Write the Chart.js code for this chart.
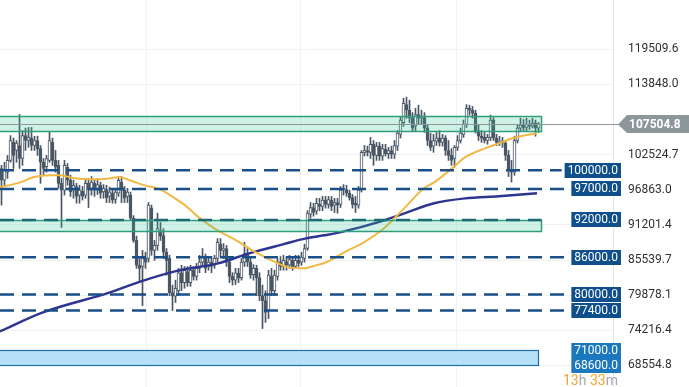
<!DOCTYPE html>
<html>
<head>
<meta charset="utf-8">
<script src="https://cdn.jsdelivr.net/npm/chart.js@4.4.1/dist/chart.umd.min.js"></script>
<style>
  html, body { margin: 0; padding: 0; background: #ffffff; }
  canvas { display: block; }
</style>
</head>
<body>
<canvas id="btcChart" width="689" height="387"></canvas>
<script>
// daily candles, oldest first
const opens = [
  100300, 98400, 99700, 101600, 104500, 103200, 104000, 101900, 105600, 104800,
  105200, 104000, 104800, 103500, 101300, 100600, 101600, 104500, 101600, 100800,
  97900, 96800, 100500, 98400, 96800, 97400, 96000, 96600, 96000, 97900,
  97100, 97900, 96800, 97600, 96500, 96900, 95800, 96300, 95300, 96300,
  98100, 96800, 95800, 96000, 92300, 88700, 84700, 84500, 85800, 85800,
  93900, 87100, 87900, 90300, 89500, 86800, 85800, 80300, 79700, 80600,
  83500, 81900, 83700, 81900, 83900, 82900, 84200, 85200, 85800, 84500,
  85200, 84700, 85800, 88100, 87100, 87400, 85200, 82900, 82300, 83400,
  82700, 85200, 86500, 85200, 83200, 84200, 82700, 79800, 79000, 77400,
  82900, 80600, 82900, 85200, 84500, 85300, 84700, 85500, 84500, 85500,
  85200, 85800, 87400, 92900, 94000, 93400, 94500, 94200, 95200, 94500,
  95200, 94400, 94800, 94500, 96800, 96900, 96300, 95600, 94700, 94400,
  96800, 102900, 103200, 102900, 104200, 102400, 103900, 102300, 103400, 102700,
  103200, 102600, 103900, 105800, 107700, 110600, 109700, 108500, 107100, 109000,
  108400, 108500, 106800, 104800, 103900, 104700, 105200, 104500, 105200, 103200,
  102400, 101900, 103700, 104800, 105800, 107400, 110000, 109700, 109200, 106400,
  105500, 105300, 104800, 105300, 108100, 105200, 104500, 104700, 104400, 102400,
  100000, 99700, 104800, 106800, 107300, 106900, 107400, 107100, 107600, 106800
];
const highs = [
  100800, 101300, 102400, 105600, 105200, 104800, 109000, 106400, 106800, 106900,
  106900, 105500, 105500, 104000, 101900, 102400, 106300, 105200, 103200, 101600,
  98700, 101600, 101100, 99200, 98400, 97900, 97600, 97400, 98400, 98700,
  99000, 98400, 98700, 98100, 97700, 97600, 97300, 97100, 97100, 99000,
  99000, 97400, 97100, 96500, 92700, 89400, 85800, 87100, 86800, 94800,
  94400, 88700, 93100, 91600, 90600, 87400, 86300, 81500, 82300, 84200,
  84700, 84500, 84500, 84700, 84500, 85000, 86300, 87400, 86500, 86100,
  86100, 86300, 89000, 89000, 88200, 87900, 85800, 83500, 84200, 84200,
  85800, 88400, 87400, 85800, 84800, 84700, 83500, 81500, 80600, 83900,
  84200, 83900, 85800, 86100, 86300, 86100, 86300, 86100, 86300, 86300,
  86800, 88100, 93500, 94800, 94700, 95500, 95500, 95800, 95800, 95800,
  95800, 95500, 95500, 97400, 97700, 97600, 96800, 96100, 95800, 97400,
  103200, 104000, 103900, 105300, 104800, 104500, 104500, 104200, 104200, 103700,
  103900, 104800, 106400, 108700, 111600, 111800, 111300, 109300, 110000, 110500,
  109700, 109300, 107400, 106000, 105800, 106100, 106400, 105800, 105600, 104800,
  103500, 104000, 105600, 106800, 108100, 110600, 110500, 110300, 109700, 107300,
  106400, 106100, 105800, 108900, 108500, 105800, 105500, 105300, 104800, 103200,
  101600, 105500, 107300, 108400, 108200, 108400, 108100, 108400, 108100, 107700
];
const lows = [
  94400, 97600, 98700, 101300, 100300, 101300, 100300, 100800, 103200, 103700,
  103200, 103200, 102400, 97900, 99200, 99700, 101300, 100800, 99700, 97100,
  90800, 96000, 97600, 95800, 95500, 94700, 94700, 95200, 95500, 94000,
  96000, 95800, 96100, 95500, 95500, 94800, 94800, 94700, 94700, 95800,
  94800, 94800, 94800, 91900, 88400, 84200, 81900, 78200, 84200, 85200,
  86300, 85500, 87100, 88700, 85800, 83100, 79800, 77400, 78700, 79800,
  80600, 81000, 81300, 81300, 82300, 82300, 83500, 84500, 83500, 83900,
  83500, 84200, 85200, 86100, 85800, 84500, 81900, 81500, 81600, 81900,
  82300, 84500, 84500, 82600, 82300, 79800, 79000, 74500, 75500, 76100,
  79800, 79800, 82300, 83900, 83900, 83900, 84200, 83900, 84200, 84500,
  84700, 85200, 87100, 92300, 92600, 92900, 93500, 93500, 93900, 93900,
  93500, 93200, 93100, 94000, 96000, 95800, 95200, 93900, 93200, 93900,
  96500, 102300, 102300, 101900, 100800, 101600, 101600, 101600, 102300, 101900,
  101900, 101900, 103200, 105200, 107100, 108400, 107700, 106300, 106400, 107400,
  107400, 106100, 104000, 103200, 102900, 104000, 103900, 103900, 102400, 101600,
  100800, 100500, 103200, 104400, 105300, 106900, 108900, 108400, 106000, 104800,
  104500, 104400, 104200, 104800, 104800, 104000, 104000, 103700, 101600, 99000,
  98100, 99200, 104400, 106400, 106400, 106400, 106600, 106800, 105500, 106100
];
const closes = [
  98400, 100000, 101600, 104800, 102400, 104400, 101900, 105600, 104800, 105300,
  104000, 104800, 103500, 101300, 100300, 101900, 104800, 101600, 100500, 97900,
  96800, 100800, 98400, 96500, 97600, 95800, 96800, 95800, 97900, 96800,
  98100, 96800, 97700, 96300, 97100, 95600, 96500, 95200, 96500, 98400,
  96800, 95500, 96500, 92300, 88700, 84700, 84200, 85800, 85200, 94400,
  87100, 87900, 90600, 89400, 86800, 85500, 80300, 79700, 81000, 83500,
  81900, 83900, 81900, 83900, 82900, 84200, 85200, 86100, 84200, 85200,
  84500, 85800, 88400, 87100, 87400, 85200, 82900, 82300, 83500, 82600,
  85200, 86600, 85200, 83100, 84200, 82700, 79800, 79000, 77100, 83100,
  80600, 83100, 85200, 84500, 85500, 84700, 85600, 84500, 85500, 85000,
  86000, 87400, 93100, 94000, 93200, 94700, 94200, 95200, 94500, 95300,
  94200, 94800, 94400, 96800, 97100, 96300, 95600, 94500, 94400, 96800,
  102900, 103200, 102900, 104200, 102400, 103900, 102300, 103500, 102700, 103200,
  102600, 104000, 106000, 108100, 110800, 109700, 108500, 106800, 109000, 108400,
  108700, 106800, 104800, 103700, 104800, 105200, 104500, 105200, 103200, 102400,
  101600, 103700, 104800, 106000, 107400, 110000, 109700, 109200, 106400, 105500,
  105200, 104800, 105300, 108100, 105200, 104500, 104700, 104400, 102400, 100000,
  99700, 104800, 106800, 107300, 106900, 107400, 107100, 107600, 106800, 107504.8
];

// moving averages, points (candle index, price)
const fastMaIdx = [-0.5, 6.2, 10.5, 16.2, 19.5, 24.5, 32.8, 39.5, 42.8, 47.8, 52.8, 57.8, 61.2, 66.2, 71.5, 78.2,
  84.8, 91.5, 95.8, 100.5, 104.8, 108.2, 114.2, 120.8, 127.5, 134.2, 140.8, 144.2, 150.2, 154.5, 161.2, 165.8, 170.2, 174.5, 178.5];
const fastMaVal = [97260, 98060, 98870, 99190, 99190, 98710, 98550, 98870, 98390, 97580, 96930, 95480, 94350, 92260, 90490, 88710,
  86780, 85160, 84360, 84200, 84680, 85160, 86780, 88390, 90650, 93870, 97100, 98060, 100320, 102090, 103540, 104350, 105160, 105640, 105960];
const slowMaIdx = [-0.5, 13.8, 36.2, 46.5, 57.8, 72.2, 82.5, 93.8, 101.5, 107.5, 112.8, 126.5, 135.2, 144.2, 154.5, 165.8, 178.5];
const slowMaVal = [74040, 77100, 80330, 82100, 83710, 85000, 86610, 88070, 89030, 89520, 90000, 91770, 93230, 94680, 95480, 95810, 96290];

// price scale labels and time grid
const priceTicks = [68554.8, 74216.4, 79878.1, 85539.7, 91201.4, 96863.0, 102524.7, 113848.0, 119509.6];
const timeGrid = [48.2, 99.8, 151.5];

// drawings
const levelLines = [100000, 97000, 86000, 80000, 77400];
const zoneLevel = 92000;
const greenZones = [[106300, 108700], [90200, 92000]];
const blueZone = [68600, 71000];
const zoneEndIndex = 179.7;
const countdownParts = ['13', 'h ', '33', 'm'];

const candleColor = '#4a5765';
const font = 'Roboto, "DejaVu Sans", sans-serif';

var canvas = document.getElementById('btcChart');
var ctx = canvas.getContext('2d');

function drawTag(c, text, yMid, bg, right) {
  c.font = '12px ' + font;
  const w = c.measureText(text).width + 6;
  const h = 15;
  c.fillStyle = bg;
  c.fillRect(right - w, Math.round(yMid - h / 2), w, h);
  c.fillStyle = '#ffffff';
  c.textAlign = 'right';
  c.textBaseline = 'middle';
  c.fillText(text, right - 3, Math.round(yMid - h / 2) + h / 2 + 0.5);
  return right - w;
}

const drawingsPlugin = {
  id: 'drawings',
  afterDatasetsDraw(chart) {
    const c = chart.ctx;
    const area = chart.chartArea;
    const x = chart.scales.x;
    const y = chart.scales.y;
    const zoneRight = Math.round(x.getPixelForValue(zoneEndIndex)) + 0.5;
    const tagRight = 621;
    c.save();

    // green zones
    greenZones.forEach(function (z) {
      const top = Math.round(y.getPixelForValue(z[1])) + 0.5;
      const bot = Math.round(y.getPixelForValue(z[0])) + 0.5;
      c.fillStyle = 'rgba(40, 195, 140, 0.22)';
      c.fillRect(area.left, top, zoneRight - area.left, bot - top);
      c.strokeStyle = '#2f9e7c';
      c.lineWidth = 1.5;
      c.strokeRect(area.left - 3, top, zoneRight - area.left + 3, bot - top);
    });

    // blue zone
    const bTop = Math.round(y.getPixelForValue(blueZone[1])) + 0.5;
    const bBot = Math.round(y.getPixelForValue(blueZone[0])) + 0.5;
    c.fillStyle = '#b6e0f7';
    c.fillRect(area.left, bTop, zoneRight - 3 - area.left, bBot - bTop);
    c.strokeStyle = '#1f6ea6';
    c.lineWidth = 1.2;
    c.strokeRect(area.left - 3, bTop, zoneRight - 3 - area.left + 3, bBot - bTop);

    // current price line
    const last = closes[closes.length - 1];
    const py = Math.round(y.getPixelForValue(last)) + 0.5;
    c.strokeStyle = '#8d969b';
    c.lineWidth = 1;
    c.beginPath();
    c.moveTo(area.left, py);
    c.lineTo(620, py);
    c.stroke();

    // dashed levels with tags
    c.setLineDash([14, 8]);
    c.lineWidth = 2.5;
    levelLines.forEach(function (v) {
      const ly = y.getPixelForValue(v);
      c.font = '12px ' + font;
      const left = tagRight - c.measureText(v.toFixed(1)).width - 6;
      c.strokeStyle = '#1a4f88';
      c.beginPath();
      c.moveTo(area.left, ly);
      c.lineTo(left - 3, ly);
      c.stroke();
    });
    const zy = y.getPixelForValue(zoneLevel);
    c.strokeStyle = '#1d6a73';
    c.beginPath();
    c.moveTo(area.left, zy);
    c.lineTo(zoneRight, zy);
    c.stroke();
    c.setLineDash([]);

    levelLines.concat([zoneLevel]).forEach(function (v) {
      drawTag(c, v.toFixed(1), y.getPixelForValue(v), '#0e4f8c', tagRight);
    });
    drawTag(c, blueZone[1].toFixed(1), y.getPixelForValue(blueZone[1]), '#1c78bd', tagRight);
    drawTag(c, blueZone[0].toFixed(1), y.getPixelForValue(blueZone[0]), '#1c78bd', tagRight);

    // current price tag
    const pTop = py - 0.5 - 9;
    c.fillStyle = '#8d969b';
    c.beginPath();
    c.moveTo(618, py);
    c.lineTo(627, pTop);
    c.lineTo(689, pTop);
    c.lineTo(689, pTop + 18);
    c.lineTo(627, pTop + 18);
    c.closePath();
    c.fill();
    c.fillStyle = '#ffffff';
    c.font = 'bold 12px ' + font;
    c.textAlign = 'left';
    c.textBaseline = 'middle';
    c.fillText(last.toFixed(1), 629, py + 0.5);

    // countdown to candle close
    c.font = '14px ' + font;
    c.textBaseline = 'alphabetic';
    let cx = 563;
    countdownParts.forEach(function (t, i) {
      c.fillStyle = i % 2 === 0 ? '#f2a52b' : '#a3a6ad';
      c.fillText(t, cx, 385);
      cx += c.measureText(t).width;
    });
    c.restore();
  }
};

const config = {
  type: 'bar',
  data: {
    datasets: [
      {
        type: 'line',
        label: 'MA fast',
        data: fastMaIdx.map((v, i) => ({ x: v, y: fastMaVal[i] })),
        borderColor: '#f1b943',
        borderWidth: 2,
        pointRadius: 0,
        cubicInterpolationMode: 'monotone',
        order: 0
      },
      {
        type: 'line',
        label: 'MA slow',
        data: slowMaIdx.map((v, i) => ({ x: v, y: slowMaVal[i] })),
        borderColor: '#2d3590',
        borderWidth: 2.5,
        pointRadius: 0,
        cubicInterpolationMode: 'monotone',
        order: 1
      },
      {
        label: 'bodies',
        data: closes.map((c, i) => ({ x: i, y: [opens[i], c] })),
        backgroundColor: closes.map((c, i) => c >= opens[i] ? '#ffffff' : candleColor),
        borderColor: candleColor,
        borderWidth: 1,
        borderSkipped: false,
        barThickness: 3,
        grouped: false,
        order: 2
      },
      {
        label: 'wicks',
        data: closes.map((c, i) => ({ x: i, y: [lows[i], highs[i]] })),
        backgroundColor: candleColor,
        borderWidth: 0,
        barThickness: 1,
        grouped: false,
        order: 3
      }
    ]
  },
  options: {
    responsive: false,
    devicePixelRatio: 1,
    animation: false,
    layout: { padding: 0 },
    plugins: { legend: { display: false }, tooltip: { enabled: false } },
    scales: {
      x: {
        type: 'linear',
        min: -0.5,
        max: -0.5 + 613 / 3,
        offset: false,
        grid: { color: '#f0f2f6', drawTicks: false, offset: false },
        border: { display: false },
        ticks: { display: false },
        afterBuildTicks: function (scale) {
          scale.ticks = timeGrid.map(v => ({ value: v }));
        },
        afterFit: function (scale) {
          scale.height = 0;
          scale.paddingLeft = 0;
          scale.paddingRight = 0;
        }
      },
      y: {
        type: 'linear',
        position: 'right',
        min: 65080,
        max: 127450,
        grid: { color: '#f0f2f6', drawTicks: false },
        border: { display: true, color: '#e4e6eb' },
        ticks: {
          padding: 15,
          color: '#2f3033',
          font: { family: font, size: 12 },
          callback: function (v) { return v.toFixed(1); }
        },
        afterBuildTicks: function (scale) {
          scale.ticks = priceTicks.map(v => ({ value: v }));
        },
        afterFit: function (scale) {
          scale.width = 76;
          scale.paddingTop = 0;
          scale.paddingBottom = 0;
        }
      }
    }
  },
  plugins: [drawingsPlugin]
};

new Chart(ctx, config);
</script>
</body>
</html>
